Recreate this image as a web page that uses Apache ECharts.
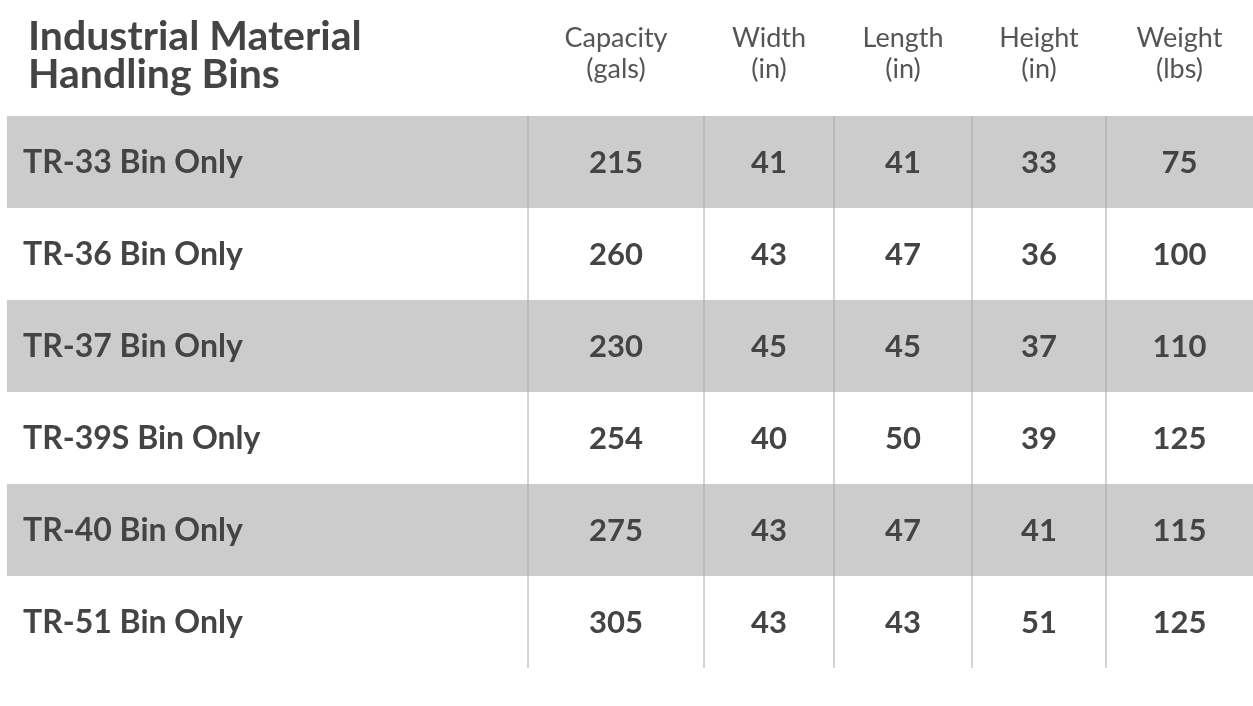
<!DOCTYPE html>
<html>
<head>
<meta charset="utf-8">
<title>Industrial Material Handling Bins</title>
<script src="https://cdn.jsdelivr.net/npm/echarts@6/dist/echarts.min.js"></script>
<style>html,body{margin:0;padding:0;background:#fff}</style>
</head>
<body>
<div id="main" style="width:1253px;height:706px"></div>
<script>
// table data
var models = ['TR-33 Bin Only', 'TR-36 Bin Only', 'TR-37 Bin Only', 'TR-39S Bin Only', 'TR-40 Bin Only', 'TR-51 Bin Only'];
var headers = ['Capacity\n(gals)', 'Width\n(in)', 'Length\n(in)', 'Height\n(in)', 'Weight\n(lbs)'];
var capacity = [215, 260, 230, 254, 275, 305];
var width = [41, 43, 45, 40, 43, 43];
var length = [41, 47, 45, 50, 47, 43];
var height = [33, 36, 37, 39, 41, 51];
var weight = [75, 100, 110, 125, 115, 125];

// column edges in x-axis units (layout)
var edges = [7, 528, 704, 834, 972, 1106, 1253];
var cols = [models, capacity, width, length, height, weight];

var cells = [];
for (var r = 0; r < models.length; r++) {
  for (var c = 0; c < cols.length; c++) cells.push([c, r, String(cols[c][r])]);
}

var font = 'Lato, "Open Sans", sans-serif';
var myChart = echarts.init(document.getElementById('main'));

function renderCell(params, api) {
  var c = api.value(0), r = api.value(1);
  var p0 = api.coord([edges[c], r]);
  var p1 = api.coord([edges[c + 1], r]);
  var h = api.size([0, 1])[1];
  var top = p0[1] - h / 2;
  var children = [];
  if (r % 2 === 0) {
    children.push({type: 'rect', shape: {x: p0[0], y: top, width: p1[0] - p0[0], height: h},
      style: {fill: '#cccccc'}});
  }
  if (c > 0) {
    children.push({type: 'line', shape: {x1: p0[0], y1: top, x2: p0[0], y2: top + h},
      style: {stroke: '#a8a8a8', lineWidth: 1}});
  }
  children.push({type: 'text', style: {
    text: api.value(2),
    x: c === 0 ? p0[0] + 16 : (p0[0] + p1[0]) / 2,
    y: p0[1] + 1,
    align: c === 0 ? 'left' : 'center', verticalAlign: 'middle',
    fill: '#444', font: 'bold ' + (c === 0 ? 32 : 31) + 'px ' + font
  }});
  return {type: 'group', children: children};
}

var headerGraphics = headers.map(function (h, i) {
  return {type: 'text',
    x: (edges[i + 1] + edges[i + 2]) / 2, y: 54,
    style: {text: h, align: 'center', verticalAlign: 'middle', fill: '#555',
      font: '27px ' + font, lineHeight: 31}};
});

myChart.setOption({
  animation: false,
  grid: {left: 0, top: 116, width: 1253, height: 552},
  xAxis: {type: 'value', min: 0, max: 1253, show: false},
  yAxis: {type: 'category', data: models, inverse: true, show: false},
  graphic: [{
    type: 'text', x: 28, y: 56,
    style: {text: 'Industrial Material\nHandling Bins', fill: '#444',
      font: 'bold 41px ' + font, lineHeight: 38, verticalAlign: 'middle'}
  }].concat(headerGraphics),
  series: [{
    type: 'custom',
    renderItem: renderCell,
    encode: {x: 0, y: 1},
    data: cells
  }]
});
</script>
</body>
</html>
